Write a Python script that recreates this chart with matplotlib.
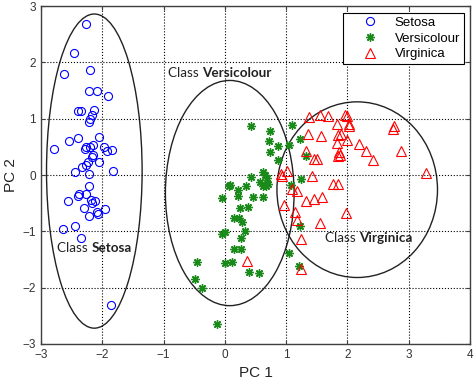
import numpy as np
import matplotlib
matplotlib.use('Agg')
import matplotlib.pyplot as plt
from matplotlib.patches import Ellipse

# PCA scores (PC1, PC2)
setosa_pc1 = [-2.26, -2.46, -2.20, -2.62, -2.21, -2.08, -1.91, -2.39, -2.34, -2.13,
              -2.17, -2.20, -2.22, -2.05, -2.39, -2.54, -2.78, -2.29, -2.27, -2.20,
              -2.15, -1.97, -1.92, -1.84, -2.17, -2.15, -2.24, -2.05, -2.26, -2.33,
              -1.83, -2.44, -2.21, -2.21, -2.27, -2.38, -2.39, -2.18, -2.12, -2.17,
              -2.56, -2.30, -1.95, -2.09, -2.07, -2.21, -2.64, -2.44, -2.34, -1.86]
setosa_pc2 = [2.69, 2.17, 1.86, 1.80, 1.49, 1.49, 1.40, 1.13, 1.14, 1.15,
              1.07, 1.00, 0.94, 0.67, 0.66, 0.60, 0.47, 0.47, 0.50, 0.50,
              0.53, 0.49, 0.43, 0.44, 0.32, 0.36, 0.23, 0.24, 0.17, 0.15,
              0.08, 0.05, 0.02, -0.19, -0.33, -0.33, -0.37, -0.44, -0.46, -0.50,
              -0.46, -0.59, -0.61, -0.65, -0.69, -0.72, -0.95, -0.90, -1.11, -2.31]

versi_pc1 = [0.42, 0.73, 1.09, 0.72, 0.86, 1.23, 0.73, 1.04, 0.86, 1.33,
             0.62, 0.65, 0.69, 0.62, 0.67, 0.71, 0.57, 0.42, 0.35, 0.07,
             0.09, 0.22, 0.21, -0.04, 0.46, 0.62, 1.25, 1.08, 0.25, 0.38,
             0.15, 0.23, 0.28, 0.33, -0.04, 0.00, 0.26, 1.22, 0.15, 0.26,
             1.04, -0.46, 0.00, 0.11, 1.21, 0.39, 0.55, -0.48, -0.38, -0.12]
versi_pc2 = [0.87, 0.78, 0.88, 0.60, 0.52, 0.64, 0.41, 0.53, 0.27, 0.33,
             0.05, 0.00, -0.05, -0.20, -0.20, -0.16, -0.13, -0.04, -0.19, -0.20,
             -0.18, -0.27, -0.37, -0.41, -0.39, -0.39, -0.07, -0.18, -0.58, -0.57,
             -0.76, -0.76, -0.83, -0.99, -1.04, -1.01, -1.11, -0.91, -1.31, -1.32,
             -1.38, -1.54, -1.56, -1.54, -1.61, -1.73, -1.74, -1.84, -2.01, -2.65]

virg_pc1 = [1.37, 1.56, 1.68, 1.96, 2.00, 1.83, 2.02, 2.03, 2.76, 2.74,
            1.35, 1.57, 1.84, 1.89, 1.83, 2.00, 2.19, 1.32, 2.30, 2.88,
            1.86, 1.85, 1.88, 1.46, 1.51, 2.42, 1.01, 0.94, 0.91, 3.29,
            1.42, 1.76, 1.84, 1.09, 1.17, 1.59, 1.45, 1.32, 0.97, 1.14,
            1.98, 1.18, 1.55, 1.24, 1.24, 0.36]
virg_pc2 = [1.03, 1.07, 1.04, 1.06, 1.04, 0.90, 0.91, 0.87, 0.87, 0.81,
            0.72, 0.70, 0.71, 0.72, 0.57, 0.63, 0.56, 0.43, 0.43, 0.43,
            0.41, 0.33, 0.36, 0.28, 0.29, 0.27, 0.08, -0.01, 0.02, 0.04,
            -0.02, -0.16, -0.16, -0.25, -0.29, -0.39, -0.43, -0.46, -0.54, -0.66,
            -0.68, -0.80, -0.85, -1.13, -1.67, -1.53]

class_names = ['Setosa', 'Versicolour', 'Virginica']
# ellipse centre x, centre y, width, height
class_ellipses = [(-2.13, 0.07, 1.56, 5.58),
                  (0.08, -0.32, 2.10, 4.00),
                  (2.16, -0.26, 2.62, 3.12)]
label_pos = [(-2.74, -1.30), (-0.93, 1.82), (1.63, -1.11)]

plt.rcParams['font.family'] = ['Liberation Sans', 'DejaVu Sans']

fig = plt.figure(figsize=(4.74, 3.83), dpi=100)
ax = fig.add_axes([0.0865, 0.102, 0.905, 0.882])

ax.plot(setosa_pc1, setosa_pc2, 'o', mfc='none', mec='#0000ff', ms=5.8, mew=0.8,
        label=class_names[0])
ax.plot(versi_pc1, versi_pc2, ls='none', marker=(8, 2, 0), color='#1a8a1a', ms=6,
        mew=1.0, label=class_names[1])
ax.plot(virg_pc1, virg_pc2, '^', mfc='none', mec='#ff0000', ms=7, mew=0.8,
        label=class_names[2])

for cx, cy, w, h in class_ellipses:
    ax.add_patch(Ellipse((cx, cy), w, h, fill=False, ec='#222222', lw=1.0))

# "Class" in regular weight, class name in bold right after it
for name, (lx, ly) in zip(class_names, label_pos):
    t = ax.text(lx, ly, 'Class ', family='Lato', fontsize=9.7, va='center', color='#222222')
    ax.annotate(name, xy=(1, 0), xycoords=t, va='bottom', ha='left',
                family='Lato', fontsize=9.7, fontweight='bold', color='#222222')

ax.set_xlim(-3, 4)
ax.set_ylim(-3, 3)
ax.set_xticks(range(-3, 5))
ax.set_yticks(range(-3, 4))
ax.grid(True, ls=':', color='black', lw=0.8)
ax.tick_params(direction='in', labelsize=8.5, labelcolor='#333333', color='#404040',
               top=True, right=True, length=3)
for s in ax.spines.values():
    s.set_linewidth(1.0)
    s.set_color('#404040')
ax.set_xlabel('PC 1', fontsize=11, labelpad=4, color='#222222')
ax.set_ylabel('PC 2', fontsize=11, labelpad=3, color='#222222')

leg = ax.legend(loc='upper right', bbox_to_anchor=(0.986, 0.981), borderaxespad=0,
                fancybox=False, edgecolor='black', fontsize=9.5, handlelength=3.5,
                labelspacing=0.27, handletextpad=0.1, borderpad=0.3, framealpha=1)
leg.get_frame().set_linewidth(0.8)

fig.savefig('out.png', dpi=100)
